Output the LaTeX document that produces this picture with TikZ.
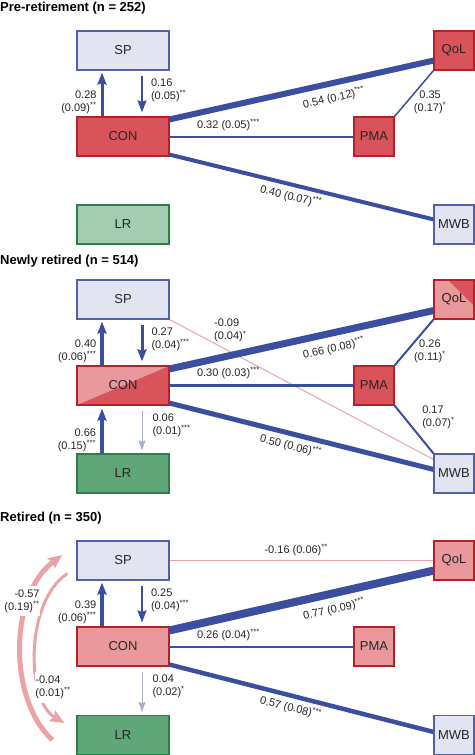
\documentclass[tikz,border=0pt]{standalone}
\usepackage{fontspec}
\setmainfont{Liberation Sans}
\usepackage{tikz}
\usetikzlibrary{arrows.meta, backgrounds}

\definecolor{pathblue}{HTML}{3B4FA0}
\definecolor{spfill}{HTML}{E3E4F1}
\definecolor{spline}{HTML}{5461A8}
\definecolor{redfill}{HTML}{D8545A}
\definecolor{redlite}{HTML}{E9989B}
\definecolor{redline}{HTML}{B3222B}
\definecolor{grnlite}{HTML}{A4CCB0}
\definecolor{grnfill}{HTML}{5FA778}
\definecolor{grnline}{HTML}{2B8049}
\definecolor{negpink}{HTML}{EBA3A5}
\definecolor{weakblue}{HTML}{A9AFCF}

\newcommand{\sg}[1]{\textsuperscript{#1}}

\begin{document}
\begin{tikzpicture}[x=1pt, y=-1pt,
        box/.style={rectangle, line width=1.2pt, minimum height=39pt, inner sep=0pt, font=\fontsize{13}{15}\selectfont, text=black!85},
        wide/.style={box, minimum width=92pt},
        sq/.style={box, minimum width=40pt},
        lav/.style={fill=spfill, draw=spline},
        rd/.style={fill=redfill, draw=redline},
        rdl/.style={fill=redlite, draw=redline},
        gr/.style={fill=grnfill, draw=grnline},
        grl/.style={fill=grnlite, draw=grnline},
        halfred/.style={fill=redfill, draw=redline, path picture={\fill[redlite] (path picture bounding box.south west) -- (path picture bounding box.north west) -- (path picture bounding box.north east) -- cycle;}},
        qolsplit/.style={fill=redlite, draw=redline, path picture={\fill[redfill] (path picture bounding box.north east) -- +(-26,0) -- +(0,26) -- cycle;}},
        ttl/.style={anchor=west, inner sep=0pt, font=\fontsize{13}{15}\selectfont\bfseries},
        lab/.style={inner sep=1pt, font=\fontsize{11}{13}\selectfont, text=black!85},
        lnk/.style={draw=pathblue},
        arr/.style={draw=pathblue, -{Stealth[length=12pt, width=9pt, inset=1.5pt]}},
        weak/.style={draw=weakblue, line width=1pt, -{Stealth[length=10pt, width=7pt, inset=1.5pt]}},
        neg/.style={draw=negpink},
        negarc/.style={draw=negpink, -{Stealth[length=14pt, width=12pt, inset=2pt]}}
    ]
    \useasboundingbox (0,0) rectangle (474,755);

    % Pre-retirement
    \node[ttl] (t1) at (0,8) {Pre-retirement (n = 252)};
    \node[wide, lav] (sp1) at (123,50.5) {SP};
    \node[wide, rd] (con1) at (123,136.5) {CON};
    \node[wide, grl] (lr1) at (123,224.5) {LR};
    \node[sq, rd] (qol1) at (454,50.5) {QoL};
    \node[sq, rd] (pma1) at (374,136.5) {PMA};
    \node[sq, lav] (mwb1) at (454,224.5) {MWB};

    % Newly retired
    \node[ttl] (t2) at (0,261) {Newly retired (n = 514)};
    \node[wide, lav] (sp2) at (123,299.5) {SP};
    \node[wide, halfred] (con2) at (123,385.5) {CON};
    \node[wide, gr] (lr2) at (123,473.5) {LR};
    \node[sq, qolsplit] (qol2) at (454,299.5) {QoL};
    \node[sq, rd] (pma2) at (374,385.5) {PMA};
    \node[sq, lav] (mwb2) at (454,473.5) {MWB};

    % Retired
    \node[ttl] (t3) at (0,518) {Retired (n = 350)};
    \node[wide, lav] (sp3) at (123,560.5) {SP};
    \node[wide, rdl] (con3) at (123,646.5) {CON};
    \node[wide, gr] (lr3) at (123,735) {LR};
    \node[sq, rdl] (qol3) at (454,560.5) {QoL};
    \node[sq, rdl] (pma3) at (374,646.5) {PMA};
    \node[sq, lav] (mwb3) at (454,735) {MWB};

    \begin{scope}[on background layer]
        % paths, pre-retirement
        \draw[arr, line width=3pt] ([xshift=-21pt]con1.north) -- ([xshift=-21pt, yshift=-2pt]sp1.south) node[lab, pos=0.33, left=3pt, align=right] (a1) {0.28\\(0.09)\sg{**}};
        \draw[arr, line width=2pt] ([xshift=19pt, yshift=-5pt]sp1.south) -- ([xshift=19pt, yshift=4pt]con1.north) node[lab, pos=0.4, right=7pt, align=left] (b1) {0.16\\(0.05)\sg{**}};
        \draw[lnk, line width=6pt] ([yshift=-3pt]con1.north east) -- ([yshift=10pt]qol1.south west) node[lab, pos=0.61, sloped, below=5pt] (c1) {0.54 (0.12)\sg{***}};
        \draw[lnk, line width=2pt] (con1.east) -- (pma1.west) node[lab, pos=0.32, above=4pt] (d1) {0.32 (0.05)\sg{***}};
        \draw[lnk, line width=4pt] ([yshift=2pt]con1.south east) -- ([yshift=-15pt]mwb1.north west) node[lab, pos=0.47, sloped, below=3pt] (e1) {0.40 (0.07)\sg{***}};
        \draw[lnk, line width=1.5pt] (pma1.north east) -- (qol1.south west) node[lab, pos=0.3, right=6pt, align=center] (f1) {0.35\\(0.17)\sg{*}};

        % paths, newly retired
        \draw[neg, line width=1pt] (sp2.south east) -- ([yshift=-6pt]mwb2.north west) node[lab, pos=0.23, above=8pt, align=left] (g2) {-0.09\\(0.04)\sg{*}};
        \draw[arr, line width=3.5pt] ([xshift=-21pt]con2.north) -- ([xshift=-21pt, yshift=-2pt]sp2.south) node[lab, pos=0.33, left=3pt, align=right] (a2) {0.40\\(0.06)\sg{***}};
        \draw[arr, line width=3pt] ([xshift=19pt, yshift=-5pt]sp2.south) -- ([xshift=19pt, yshift=4pt]con2.north) node[lab, pos=0.4, right=7pt, align=left] (b2) {0.27\\(0.04)\sg{***}};
        \draw[arr, line width=4pt] ([xshift=-21pt]lr2.north) -- ([xshift=-21pt, yshift=-3pt]con2.south) node[lab, pos=0.3, left=3pt, align=right] (h2) {0.66\\(0.15)\sg{***}};
        \draw[weak] ([xshift=19pt, yshift=-5pt]con2.south) -- ([xshift=19pt, yshift=3pt]lr2.north) node[lab, pos=0.37, right=9pt, align=left] (i2) {0.06\\(0.01)\sg{***}};
        \draw[lnk, line width=7pt] ([yshift=-3.5pt]con2.north east) -- ([yshift=9pt]qol2.south west) node[lab, pos=0.61, sloped, below=5pt] (c2) {0.66 (0.08)\sg{***}};
        \draw[lnk, line width=3pt] (con2.east) -- (pma2.west) node[lab, pos=0.32, above=4pt] (d2) {0.30 (0.03)\sg{***}};
        \draw[lnk, line width=5pt] ([yshift=2.5pt]con2.south east) -- ([yshift=-16pt]mwb2.north west) node[lab, pos=0.47, sloped, below=3pt] (e2) {0.50 (0.06)\sg{***}};
        \draw[lnk, line width=2pt] (pma2.north east) -- (qol2.south west) node[lab, pos=0.3, right=6pt, align=center] (f2) {0.26\\(0.11)\sg{*}};
        \draw[lnk, line width=2pt] (pma2.south east) -- (mwb2.north west) node[lab, pos=0.25, right=16pt, align=left] (j2) {0.17\\(0.07)\sg{*}};

        % paths, retired
        \draw[neg, line width=1.5pt] (sp3.east) -- (qol3.west) node[lab, pos=0.48, above=3pt] (g3) {-0.16 (0.06)\sg{**}};
        \draw[arr, line width=3.5pt] ([xshift=-21pt]con3.north) -- ([xshift=-21pt, yshift=-2pt]sp3.south) node[lab, pos=0.33, left=3pt, align=right] (a3) {0.39\\(0.06)\sg{***}};
        \draw[arr, line width=2pt] ([xshift=19pt, yshift=-5pt]sp3.south) -- ([xshift=19pt, yshift=4pt]con3.north) node[lab, pos=0.4, right=7pt, align=left] (b3) {0.25\\(0.04)\sg{***}};
        \draw[weak] ([xshift=19pt, yshift=-5pt]con3.south) -- ([xshift=19pt, yshift=3pt]lr3.north) node[lab, pos=0.37, right=9pt, align=left] (i3) {0.04\\(0.02)\sg{*}};
        \draw[lnk, line width=8pt] ([yshift=-4pt]con3.north east) -- ([yshift=10pt]qol3.south west) node[lab, pos=0.61, sloped, below=5pt] (c3) {0.77 (0.09)\sg{***}};
        \draw[lnk, line width=2pt] (con3.east) -- (pma3.west) node[lab, pos=0.32, above=4pt] (d3) {0.26 (0.04)\sg{***}};
        \draw[lnk, line width=4.5pt] ([yshift=2pt]con3.south east) -- ([yshift=-17pt]mwb3.north west) node[lab, pos=0.47, sloped, below=3pt] (e3) {0.57 (0.08)\sg{***}};

        % SP <-> LR
        \draw[negarc, line width=5pt] ([shift={(-24,5)}]lr3.west) .. controls +(-44,-40) and +(-54,40) .. ([shift={(-14,-5.5)}]sp3.west);
        \draw[negarc, line width=3pt] ([shift={(-9,-7)}]sp3.south west) .. controls +(-42,27) and +(-39,-23) .. ([shift={(-12,-12)}]lr3.west);
        \node[lab, fill=white, inner xsep=0.5pt, inner ysep=4pt, align=right] (k3) at (22,601) {-0.57\\(0.19)\sg{**}};
        \node[lab, fill=white, inner xsep=0.5pt, inner ysep=4pt, align=left] (m3) at (53,687.5) {-0.04\\(0.01)\sg{**}};
    \end{scope}
\end{tikzpicture}
\end{document}
